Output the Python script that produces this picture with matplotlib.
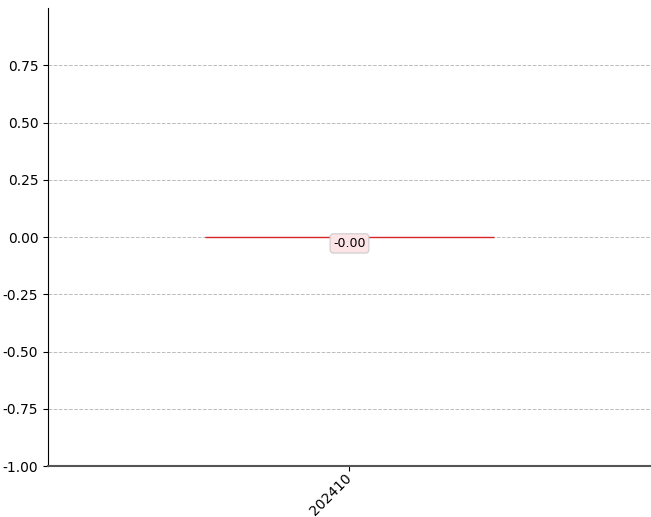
import numpy as np
import matplotlib
matplotlib.use("Agg")
import matplotlib.pyplot as plt

periods = ["202410"]
values = [-0.001]

fig = plt.figure(figsize=(6.51, 5.17), dpi=100)
ax = fig.add_axes([0.0737, 0.0986, 0.9263, 0.8859])

x = np.arange(len(periods))
bars = ax.bar(x, values, width=0.6, color="#d62728", edgecolor="#d62728", linewidth=1)

for b, v in zip(bars, values):
    ax.text(b.get_x() + b.get_width() / 2, v - 0.027, f"{v:.2f}",
            ha="center", va="center", fontsize=9,
            bbox=dict(boxstyle="round,pad=0.25", fc="#fde4e6", ec="#cccccc", lw=0.8))

ax.set_xlim(-0.626, 0.626)
ax.set_ylim(-1.0, 1.0)
ax.set_yticks(np.arange(-1.0, 0.76, 0.25))
ax.set_yticklabels([f"{t:.2f}" for t in np.arange(-1.0, 0.76, 0.25)], fontsize=10)
ax.set_xticks(x)
ax.set_xticklabels(periods, rotation=45, ha="right", va="center",
                   rotation_mode="anchor", fontsize=10)

ax.grid(axis="y", linestyle="--", color="#bbbbbb", linewidth=0.7)
ax.set_axisbelow(True)
ax.spines["top"].set_visible(False)
ax.spines["right"].set_visible(False)
ax.spines["bottom"].set_color("#555555")
ax.spines["bottom"].set_linewidth(1.5)

fig.savefig("out.png", dpi=100)
